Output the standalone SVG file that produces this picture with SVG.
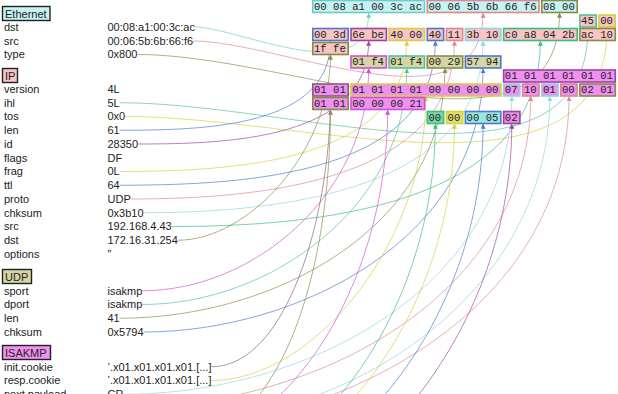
<svg xmlns="http://www.w3.org/2000/svg" width="618" height="394" viewBox="0 0 618 394">
<style>
.lbl{font-family:"Liberation Sans",Arial,sans-serif;font-size:11px;fill:#222}
.hx{font-family:"Liberation Mono","Courier New",monospace;font-size:10.6px;fill:#222}
.hd{stroke:#222;stroke-width:1.4}
.bx{stroke-width:1.6}
.ln{fill:none;stroke-width:0.8;stroke-opacity:0.85}
.f-eth{fill:#c6f2f2}.f-ip{fill:#f8c4c4}.f-udp{fill:#d6d6a4}.f-isa{fill:#f090f0}
.k-cyan{stroke:#6ccccc}.k-pink{stroke:#dc8890}.k-olive{stroke:#8a8a48}.k-tgreen{stroke:#50c498}
.k-yellow{stroke:#d4d040}.k-blue{stroke:#4a7ad0}.k-purple{stroke:#9a44a6}.k-lteal{stroke:#92d4dc}
.k-green{stroke:#3cbc80}.k-magenta{stroke:#d050d4}.k-mauve{stroke:#8a5c80}
.ln.k-cyan{marker-end:url(#a-cyan)}.ln.k-pink{marker-end:url(#a-pink)}.ln.k-olive{marker-end:url(#a-olive)}
.ln.k-tgreen{marker-end:url(#a-tgreen)}.ln.k-yellow{marker-end:url(#a-yellow)}.ln.k-blue{marker-end:url(#a-blue)}
.ln.k-purple{marker-end:url(#a-purple)}.ln.k-lteal{marker-end:url(#a-lteal)}.ln.k-green{marker-end:url(#a-green)}
.ln.k-magenta{marker-end:url(#a-magenta)}.ln.k-mauve{marker-end:url(#a-mauve)}
</style>
<defs>
<marker id="a-cyan" viewBox="0 0 6 6" refX="6" refY="3" markerWidth="5" markerHeight="5" markerUnits="userSpaceOnUse" orient="auto"><path d="M0,0L6,3L0,6z" fill="#6ccccc"/></marker>
<marker id="a-pink" viewBox="0 0 6 6" refX="6" refY="3" markerWidth="5" markerHeight="5" markerUnits="userSpaceOnUse" orient="auto"><path d="M0,0L6,3L0,6z" fill="#dc8890"/></marker>
<marker id="a-olive" viewBox="0 0 6 6" refX="6" refY="3" markerWidth="5" markerHeight="5" markerUnits="userSpaceOnUse" orient="auto"><path d="M0,0L6,3L0,6z" fill="#8a8a48"/></marker>
<marker id="a-tgreen" viewBox="0 0 6 6" refX="6" refY="3" markerWidth="5" markerHeight="5" markerUnits="userSpaceOnUse" orient="auto"><path d="M0,0L6,3L0,6z" fill="#50c498"/></marker>
<marker id="a-yellow" viewBox="0 0 6 6" refX="6" refY="3" markerWidth="5" markerHeight="5" markerUnits="userSpaceOnUse" orient="auto"><path d="M0,0L6,3L0,6z" fill="#d4d040"/></marker>
<marker id="a-blue" viewBox="0 0 6 6" refX="6" refY="3" markerWidth="5" markerHeight="5" markerUnits="userSpaceOnUse" orient="auto"><path d="M0,0L6,3L0,6z" fill="#4a7ad0"/></marker>
<marker id="a-purple" viewBox="0 0 6 6" refX="6" refY="3" markerWidth="5" markerHeight="5" markerUnits="userSpaceOnUse" orient="auto"><path d="M0,0L6,3L0,6z" fill="#9a44a6"/></marker>
<marker id="a-lteal" viewBox="0 0 6 6" refX="6" refY="3" markerWidth="5" markerHeight="5" markerUnits="userSpaceOnUse" orient="auto"><path d="M0,0L6,3L0,6z" fill="#92d4dc"/></marker>
<marker id="a-green" viewBox="0 0 6 6" refX="6" refY="3" markerWidth="5" markerHeight="5" markerUnits="userSpaceOnUse" orient="auto"><path d="M0,0L6,3L0,6z" fill="#3cbc80"/></marker>
<marker id="a-magenta" viewBox="0 0 6 6" refX="6" refY="3" markerWidth="5" markerHeight="5" markerUnits="userSpaceOnUse" orient="auto"><path d="M0,0L6,3L0,6z" fill="#d050d4"/></marker>
<marker id="a-mauve" viewBox="0 0 6 6" refX="6" refY="3" markerWidth="5" markerHeight="5" markerUnits="userSpaceOnUse" orient="auto"><path d="M0,0L6,3L0,6z" fill="#8a5c80"/></marker>
</defs>
<rect width="618" height="394" fill="#fff"/>
<g id="layer-ethernet">
<rect class="hd f-eth" x="2.5" y="6.5" width="47.5" height="14"/><text class="lbl" x="5" y="17.5">Ethernet</text>
<g id="eth-dst"><text class="lbl" x="4" y="30.8">dst</text><text class="lbl" x="107.5" y="30.8">00:08:a1:00:3c:ac</text></g>
<g id="eth-src"><text class="lbl" x="4" y="44.8">src</text><text class="lbl" x="107.5" y="44.8">00:06:5b:6b:66:f6</text></g>
<g id="eth-type"><text class="lbl" x="4" y="58.3">type</text><text class="lbl" x="107.5" y="58.3">0x800</text></g>
</g>
<g id="layer-ip">
<rect class="hd f-ip" x="2.5" y="68.5" width="15" height="14"/><text class="lbl" x="5" y="79.5">IP</text>
<g id="ip-version"><text class="lbl" x="4" y="92.8">version</text><text class="lbl" x="107.5" y="92.8">4L</text></g>
<g id="ip-ihl"><text class="lbl" x="4" y="106.5">ihl</text><text class="lbl" x="107.5" y="106.5">5L</text></g>
<g id="ip-tos"><text class="lbl" x="4" y="120.3">tos</text><text class="lbl" x="107.5" y="120.3">0x0</text></g>
<g id="ip-len"><text class="lbl" x="4" y="134">len</text><text class="lbl" x="107.5" y="134">61</text></g>
<g id="ip-id"><text class="lbl" x="4" y="147.8">id</text><text class="lbl" x="107.5" y="147.8">28350</text></g>
<g id="ip-flags"><text class="lbl" x="4" y="161.5">flags</text><text class="lbl" x="107.5" y="161.5">DF</text></g>
<g id="ip-frag"><text class="lbl" x="4" y="175.3">frag</text><text class="lbl" x="107.5" y="175.3">0L</text></g>
<g id="ip-ttl"><text class="lbl" x="4" y="189">ttl</text><text class="lbl" x="107.5" y="189">64</text></g>
<g id="ip-proto"><text class="lbl" x="4" y="202.8">proto</text><text class="lbl" x="107.5" y="202.8">UDP</text></g>
<g id="ip-chksum"><text class="lbl" x="4" y="216.5">chksum</text><text class="lbl" x="107.5" y="216.5">0x3b10</text></g>
<g id="ip-src"><text class="lbl" x="4" y="230.3">src</text><text class="lbl" x="107.5" y="230.3">192.168.4.43</text></g>
<g id="ip-dst"><text class="lbl" x="4" y="244">dst</text><text class="lbl" x="107.5" y="244">172.16.31.254</text></g>
<g id="ip-options"><text class="lbl" x="4" y="257.8">options</text><text class="lbl" x="107.5" y="257.8">”</text></g>
</g>
<g id="layer-udp">
<rect class="hd f-udp" x="2.5" y="269.5" width="29" height="14"/><text class="lbl" x="5" y="280.5">UDP</text>
<g id="udp-sport"><text class="lbl" x="4" y="294.5">sport</text><text class="lbl" x="107.5" y="294.5">isakmp</text></g>
<g id="udp-dport"><text class="lbl" x="4" y="308.3">dport</text><text class="lbl" x="107.5" y="308.3">isakmp</text></g>
<g id="udp-len"><text class="lbl" x="4" y="322">len</text><text class="lbl" x="107.5" y="322">41</text></g>
<g id="udp-chksum"><text class="lbl" x="4" y="335.8">chksum</text><text class="lbl" x="107.5" y="335.8">0x5794</text></g>
</g>
<g id="layer-isakmp">
<rect class="hd f-isa" x="2.5" y="345.5" width="48" height="14"/><text class="lbl" x="5" y="356.5">ISAKMP</text>
<g id="isa-init"><text class="lbl" x="4" y="370.5">init.cookie</text><text class="lbl" x="107.5" y="370.5">’.x01.x01.x01.x01.[...]</text></g>
<g id="isa-resp"><text class="lbl" x="4" y="384.3">resp.cookie</text><text class="lbl" x="107.5" y="384.3">’.x01.x01.x01.x01.[...]</text></g>
<g id="isa-next"><text class="lbl" x="4" y="398">next.payload</text><text class="lbl" x="107.5" y="398">CR</text></g>
</g>
<g id="connectors">
<path class="ln k-cyan" d="M195,27C236.4,27 368.7,91.7 368.7,12.8"/>
<path class="ln k-pink" d="M193.1,41C280.8,41 483.1,137 483.1,12.8"/>
<path class="ln k-olive" d="M137.5,54.5C293.9,54.5 559.5,177.9 559.5,12.8"/>
<path class="ln k-tgreen" d="M119.7,102.75C301.4,102.75 588.1,208.8 588.1,27.3"/>
<path class="ln k-yellow" d="M125.2,116.5C311.4,116.5 607.2,216 607.2,27.3"/>
<path class="ln k-blue" d="M119.7,130.25C206.1,130.25 330.5,127 330.5,40.8"/>
<path class="ln k-purple" d="M138.1,144C227.8,144 368.7,139.5 368.7,40.8"/>
<path class="ln k-yellow" d="M119.7,171.5C239.8,171.5 406.8,160.7 406.8,40.8"/>
<path class="ln k-blue" d="M119.7,185.25C252.2,185.25 435.4,173.1 435.4,40.8"/>
<path class="ln k-pink" d="M130.7,199C264.8,199 454.5,180.2 454.5,40.8"/>
<path class="ln k-lteal" d="M143.6,212.75C281.4,212.75 483.1,190.3 483.1,40.8"/>
<path class="ln k-green" d="M171.7,226.5C312.9,226.5 540.4,207.8 540.4,40.8"/>
<path class="ln k-olive" d="M177.8,240.25C247.4,240.25 330.5,153.2 330.5,54.8"/>
<path class="ln k-magenta" d="M142.3,290.75C255.3,290.75 368.7,192.4 368.7,68.3"/>
<path class="ln k-tgreen" d="M142.3,304.5C269.9,304.5 406.8,207 406.8,68.3"/>
<path class="ln k-olive" d="M119.7,318.25C277,318.25 445,225.4 445,68.3"/>
<path class="ln k-blue" d="M143.6,332C300.3,332 483.1,236.7 483.1,68.3"/>
<path class="ln k-mauve" d="M211.5,366.75C286.4,366.75 330.5,216.9 330.5,96.3"/>
<path class="ln k-yellow" d="M211.5,380.5C313.2,380.5 425.9,243.7 425.9,96.3"/>
<path class="ln k-lteal" d="M123.4,394.25C310.3,394.25 511.8,284.8 511.8,96.3"/>
<path class="ln k-pink" d="M119.7,408C318.2,408 530.8,294.6 530.8,96.3"/>
<path class="ln k-lteal" d="M177.5,421.75C347.4,421.75 549.9,294.9 549.9,96.3"/>
<path class="ln k-pink" d="M113.6,435.5C334.5,435.5 569,313.9 569,96.3"/>
<path class="ln k-olive" d="M156.4,449.25C287.5,449.25 330.5,259 330.5,109.8"/>
<path class="ln k-magenta" d="M119.7,463C289.9,463 387.7,279.8 387.7,109.8"/>
<path class="ln k-green" d="M133.8,497.5C313.1,497.5 435.4,310 435.4,123.8"/>
<path class="ln k-yellow" d="M113.6,511.25C314.5,511.25 454.5,321.4 454.5,123.8"/>
<path class="ln k-blue" d="M113.6,525C325.9,525 483.1,332.8 483.1,123.8"/>
<path class="ln k-purple" d="M140,538.75C348,538.75 511.8,340.5 511.8,123.8"/>
</g>
<g id="hexdump">
<g id="h-eth-dst"><rect class="bx f-eth k-cyan" x="312.8" y="0.5" width="111.7" height="12"/><text class="hx" x="314" y="9.8">00 08 a1 00 3c ac</text></g>
<g id="h-eth-src"><rect class="bx f-eth k-pink" x="427.3" y="0.5" width="111.7" height="12"/><text class="hx" x="428.5" y="9.8">00 06 5b 6b 66 f6</text></g>
<g id="h-eth-type"><rect class="bx f-eth k-olive" x="541.8" y="0.5" width="35.4" height="12"/><text class="hx" x="543" y="9.8">08 00</text></g>
<g id="h-ip-vihl"><rect class="bx f-ip k-tgreen" x="579.9" y="15" width="16.3" height="12"/><text class="hx" x="581.1" y="24.3">45</text></g>
<g id="h-ip-tos"><rect class="bx f-ip k-yellow" x="599" y="15" width="16.3" height="12"/><text class="hx" x="600.2" y="24.3">00</text></g>
<g id="h-ip-len"><rect class="bx f-ip k-blue" x="312.8" y="28.5" width="35.4" height="12"/><text class="hx" x="314" y="37.8">00 3d</text></g>
<g id="h-ip-id"><rect class="bx f-ip k-purple" x="351" y="28.5" width="35.4" height="12"/><text class="hx" x="352.2" y="37.8">6e be</text></g>
<g id="h-ip-frag"><rect class="bx f-ip k-yellow" x="389.1" y="28.5" width="35.4" height="12"/><text class="hx" x="390.3" y="37.8">40 00</text></g>
<g id="h-ip-ttl"><rect class="bx f-ip k-blue" x="427.3" y="28.5" width="16.3" height="12"/><text class="hx" x="428.5" y="37.8">40</text></g>
<g id="h-ip-proto"><rect class="bx f-ip k-pink" x="446.4" y="28.5" width="16.3" height="12"/><text class="hx" x="447.6" y="37.8">11</text></g>
<g id="h-ip-chksum"><rect class="bx f-ip k-lteal" x="465.4" y="28.5" width="35.4" height="12"/><text class="hx" x="466.6" y="37.8">3b 10</text></g>
<g id="h-ip-src"><rect class="bx f-ip k-green" x="503.6" y="28.5" width="73.6" height="12"/><text class="hx" x="504.8" y="37.8">c0 a8 04 2b</text></g>
<g id="h-ip-dst1"><rect class="bx f-ip k-olive" x="579.9" y="28.5" width="35.4" height="12"/><text class="hx" x="581.1" y="37.8">ac 10</text></g>
<g id="h-ip-dst2"><rect class="bx f-ip k-olive" x="312.8" y="42.5" width="35.4" height="12"/><text class="hx" x="314" y="51.8">1f fe</text></g>
<g id="h-udp-sport"><rect class="bx f-udp k-magenta" x="351" y="56" width="35.4" height="12"/><text class="hx" x="352.2" y="65.3">01 f4</text></g>
<g id="h-udp-dport"><rect class="bx f-udp k-tgreen" x="389.1" y="56" width="35.4" height="12"/><text class="hx" x="390.3" y="65.3">01 f4</text></g>
<g id="h-udp-len"><rect class="bx f-udp k-olive" x="427.3" y="56" width="35.4" height="12"/><text class="hx" x="428.5" y="65.3">00 29</text></g>
<g id="h-udp-chksum"><rect class="bx f-udp k-blue" x="465.4" y="56" width="35.4" height="12"/><text class="hx" x="466.6" y="65.3">57 94</text></g>
<g id="h-isa-init1"><rect class="bx f-isa k-purple" x="503.6" y="70" width="111.7" height="12"/><text class="hx" x="504.8" y="79.3">01 01 01 01 01 01</text></g>
<g id="h-isa-init2"><rect class="bx f-isa k-mauve" x="312.8" y="84" width="35.4" height="12"/><text class="hx" x="314" y="93.3">01 01</text></g>
<g id="h-isa-resp"><rect class="bx f-isa k-yellow" x="351" y="84" width="149.9" height="12"/><text class="hx" x="352.2" y="93.3">01 01 01 01 00 00 00 00</text></g>
<g id="h-isa-next"><rect class="bx f-isa k-lteal" x="503.6" y="84" width="16.3" height="12"/><text class="hx" x="504.8" y="93.3">07</text></g>
<g id="h-isa-version"><rect class="bx f-isa k-pink" x="522.7" y="84" width="16.3" height="12"/><text class="hx" x="523.9" y="93.3">10</text></g>
<g id="h-isa-exch"><rect class="bx f-isa k-lteal" x="541.8" y="84" width="16.3" height="12"/><text class="hx" x="543" y="93.3">01</text></g>
<g id="h-isa-flags"><rect class="bx f-isa k-pink" x="560.8" y="84" width="16.3" height="12"/><text class="hx" x="562" y="93.3">00</text></g>
<g id="h-isa-id1"><rect class="bx f-isa k-olive" x="579.9" y="84" width="35.4" height="12"/><text class="hx" x="581.1" y="93.3">02 01</text></g>
<g id="h-isa-id2"><rect class="bx f-isa k-olive" x="312.8" y="97.5" width="35.4" height="12"/><text class="hx" x="314" y="106.8">01 01</text></g>
<g id="h-isa-length"><rect class="bx f-isa k-magenta" x="351" y="97.5" width="73.6" height="12"/><text class="hx" x="352.2" y="106.8">00 00 00 21</text></g>
<g id="h-pl-next"><rect class="bx k-green" fill="#7cd8a8" x="427.3" y="111.5" width="16.3" height="12"/><text class="hx" x="428.5" y="120.8">00</text></g>
<g id="h-pl-res"><rect class="bx k-yellow" fill="#e2e070" x="446.4" y="111.5" width="16.3" height="12"/><text class="hx" x="447.6" y="120.8">00</text></g>
<g id="h-pl-len"><rect class="bx k-blue" fill="#9ce6e0" x="465.4" y="111.5" width="35.4" height="12"/><text class="hx" x="466.6" y="120.8">00 05</text></g>
<g id="h-pl-load"><rect class="bx k-purple" fill="#e890e0" x="503.6" y="111.5" width="16.3" height="12"/><text class="hx" x="504.8" y="120.8">02</text></g>
</g>
</svg>
